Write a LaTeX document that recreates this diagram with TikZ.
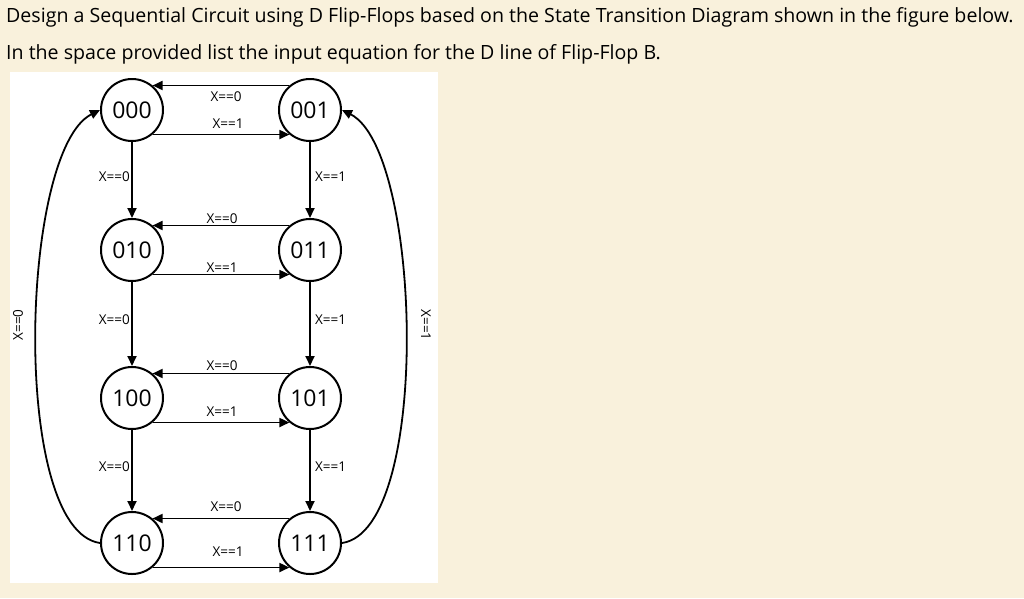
\documentclass[tikz,border=0pt]{standalone}
\usepackage{fontspec}
\setmainfont{Open Sans}
\usetikzlibrary{arrows.meta}
\definecolor{bg}{HTML}{F9F1DC}
\begin{document}
\begin{tikzpicture}[x=1pt,y=-1pt,
  st/.style={circle,draw,line width=2pt,minimum size=62pt,inner sep=0pt,font=\fontsize{23}{25}\selectfont},
  lab/.style={font=\fontsize{13.5}{15}\selectfont,inner sep=1pt},
  ar/.style={-{Triangle[length=10pt,width=9pt]},line width=1.8pt}]
\fill[bg] (0,0) rectangle (1024,598);
\useasboundingbox (0,0) rectangle (1024,598);
\fill[white] (10,72) rectangle (438,583);
\node[anchor=base west,inner sep=0pt,font=\fontsize{19.6}{22}\selectfont] (t1) at (6,22) {Design a Sequential Circuit using D Flip-Flops based on the State Transition Diagram shown in the figure below.};
\node[anchor=base west,inner sep=0pt,font=\fontsize{19.6}{22}\selectfont] (t2) at (6,59) {In the space provided list the input equation for the D line of Flip-Flop B.};
\foreach \n/\x/\y in {000/132/110,001/310/110,010/132/250,011/310/250,100/132/398,101/310/398,110/132/543,111/310/543}
  \node[st] (s\n) at (\x,\y) {\n};
\foreach \a/\b in {000/001,010/011,100/101,110/111}{
  \draw[ar] (s\b.130) -- (s\a.50);
  \draw[ar] (s\a.-50) -- (s\b.-130);
}
\node[lab] (l1) at (226,97) {X==0};
\node[lab] (l2) at (228,124) {X==1};
\node[lab] (l3) at (222,219) {X==0};
\node[lab] (l4) at (222,268) {X==1};
\node[lab] (l5) at (222,366) {X==0};
\node[lab] (l6) at (222,412) {X==1};
\node[lab] (l7) at (226,507) {X==0};
\node[lab] (l8) at (228,552) {X==1};
\draw[ar] (s000) -- (s010);
\draw[ar] (s010) -- (s100);
\draw[ar] (s100) -- (s110);
\draw[ar] (s001) -- (s011);
\draw[ar] (s011) -- (s101);
\draw[ar] (s101) -- (s111);
\foreach \y/\n in {177/a,320/b,467/c}{
  \node[lab,anchor=east] (v\n) at (131,\y) {X==0};
  \node[lab,anchor=west] (w\n) at (314,\y) {X==1};
}
\draw[ar] (s110.west) .. controls (10,530) and (20,150) .. (s000.west);
\draw[ar] (s111.east) .. controls (432,530) and (422,150) .. (s001.east);
\node[lab,rotate=90] (bl) at (18,325) {X==0};
\node[lab,rotate=-90] (br) at (426,325) {X==1};
\end{tikzpicture}
\end{document}
